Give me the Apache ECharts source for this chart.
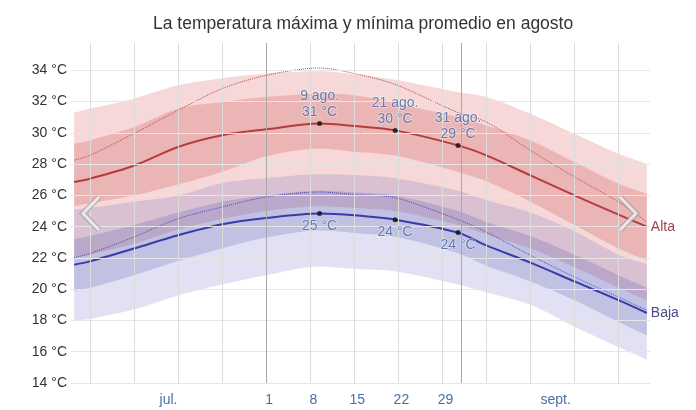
<!DOCTYPE html>
<html>
<head>
<meta charset="utf-8">
<title>La temperatura máxima y mínima promedio en agosto</title>
<script src="https://cdn.jsdelivr.net/npm/echarts@6/dist/echarts.min.js"></script>
<style>
html, body { margin: 0; padding: 0; background: #fff; }
#chart { width: 696px; height: 410px; }
</style>
</head>
<body>
<div id="chart"></div>
<script>
// dias desde el 1 de julio (0 = inicio del 1 jul.)
var days = [0.5, 3, 10, 17, 24, 31, 39.5, 45, 51.5, 61.5, 66, 73, 80, 87, 91.5];

// promedio diario
var highAvg = [26.86, 27.07, 27.9, 29.1, 29.85, 30.23, 30.6, 30.44, 30.16, 29.2, 28.56, 27.28, 26.0, 24.77, 24.0];
var lowAvg = [21.57, 21.78, 22.6, 23.45, 24.15, 24.55, 24.84, 24.73, 24.45, 23.62, 22.8, 21.7, 20.5, 19.3, 18.48];

// temperatura percibida (punteada)
var highFeel = [28.25, 28.56, 29.96, 31.44, 32.83, 33.68, 34.15, 33.8, 33.1, 31.3, 30.7, 28.88, 27.18, 25.58, 24.3];
var lowFeel = [22.02, 22.28, 23.34, 24.51, 25.26, 25.9, 26.22, 26.05, 25.85, 24.45, 23.66, 22.17, 20.78, 19.5, 18.65];

// percentiles de la maxima
var highP90 = [31.3, 31.55, 32.19, 33.04, 33.5, 33.8, 33.94, 33.75, 33.4, 32.6, 32.3, 31.23, 29.95, 28.67, 28.03];
var highP75 = [29.32, 29.52, 30.37, 31.55, 31.97, 32.29, 32.5, 32.4, 31.9, 31.0, 30.48, 29.52, 28.14, 26.75, 26.11];
var highP25 = [25.3, 25.5, 26.0, 26.7, 27.5, 28.5, 29.0, 28.8, 28.55, 27.5, 26.9, 25.6, 24.1, 22.6, 21.85];
var highP10 = [22.0, 22.2, 22.9, 23.8, 24.5, 25.0, 25.3, 25.2, 25.0, 24.1, 23.5, 22.6, 21.4, 20.1, 19.3];

// percentiles de la minima
var lowP90 = [25.1, 25.2, 25.6, 26.0, 26.8, 27.1, 27.35, 27.3, 27.1, 26.3, 25.7, 24.9, 23.7, 22.2, 21.6];
var lowP75 = [23.2, 23.4, 24.1, 24.9, 25.6, 26.0, 26.3, 26.2, 26.0, 25.0, 24.3, 23.4, 22.2, 20.9, 20.1];
var lowP25 = [19.9, 20.1, 20.9, 21.8, 22.6, 23.3, 23.75, 23.6, 23.35, 22.3, 21.5, 20.5, 19.3, 17.9, 17.05];
var lowP10 = [18.0, 18.1, 18.7, 19.6, 20.3, 20.9, 21.45, 21.3, 21.15, 20.3, 19.8, 19.0, 17.6, 16.3, 15.5];

// anotaciones
var annoDays = [39.5, 51.5, 61.5];
var annoNames = ['9 ago.', '21 ago.', '31 ago.'];
var annoHigh = [30.6, 30.16, 29.2];
var annoLow = [24.84, 24.45, 23.62];

// ejes
var xLabelPos = [15.5, 31.5, 38.5, 45.5, 52.5, 59.5, 77];
var xLabelText = ['jul.', '1', '8', '15', '22', '29', 'sept.'];
var weekLines = [3, 10, 17, 24, 38, 45, 52, 59, 66, 73, 80, 87];
var monthLines = [31, 62];
var yTicks = [14, 16, 18, 20, 22, 24, 26, 28, 30, 32, 34];

var FONT = '"Liberation Sans", Arial, sans-serif';

function pairs(xs, ys) {
	return xs.map(function(x, i) {
		return [x, ys[i]];
	});
}

// [valor, dia] para que el apilado se haga sobre y
function flipped(xs, ys) {
	return xs.map(function(x, i) {
		return [ys[i], x];
	});
}

function band(name, lower, upper, color) {
	var thick = upper.map(function(v, i) {
		return +(v - lower[i]).toFixed(3);
	});
	return [{
		name: name + '_base',
		type: 'line',
		stack: name,
		encode: { x: 1, y: 0 },
		data: flipped(days, lower),
		smooth: 0.3,
		symbol: 'none',
		lineStyle: { opacity: 0 },
		silent: true,
		z: 2
	}, {
		name: name,
		type: 'line',
		stack: name,
		encode: { x: 1, y: 0 },
		data: flipped(days, thick),
		smooth: 0.3,
		symbol: 'none',
		lineStyle: { opacity: 0 },
		areaStyle: { color: color, opacity: 1 },
		silent: true,
		z: 2
	}];
}

function gridLines() {
	var list = [];
	yTicks.forEach(function(v) {
		list.push({ yAxis: v, lineStyle: { color: '#e6e6e6', width: 1, type: 'solid' } });
	});
	weekLines.forEach(function(v) {
		list.push({ xAxis: v, lineStyle: { color: '#dcdcdc', width: 1, type: 'solid' } });
	});
	monthLines.forEach(function(v) {
		list.push({ xAxis: v, lineStyle: { color: '#a8a8a8', width: 1, type: 'solid' } });
	});
	return list;
}

var chart = echarts.init(document.getElementById('chart'), null, { renderer: 'canvas' });

var series = [];
series = series.concat(band('highOuter', highP10, highP90, 'rgba(210,60,60,0.2)'));
series = series.concat(band('highInner', highP25, highP75, 'rgba(200,50,50,0.21)'));
series = series.concat(band('lowOuter', lowP10, lowP90, 'rgba(75,75,185,0.17)'));
series = series.concat(band('lowInner', lowP25, lowP75, 'rgba(75,75,175,0.21)'));

// lineas de cuadricula
series[0].markLine = {
	silent: true,
	symbol: 'none',
	animation: false,
	label: { show: false },
	data: gridLines()
};

series.push({
	name: 'highFeel', type: 'line', data: pairs(days, highFeel), smooth: 0.3, symbol: 'none', z: 3,
	lineStyle: { color: '#b04a4a', width: 1, type: 'dotted' }
});
series.push({
	name: 'lowFeel', type: 'line', data: pairs(days, lowFeel), smooth: 0.3, symbol: 'none', z: 3,
	lineStyle: { color: '#4a4ab0', width: 1, type: 'dotted' }
});
series.push({
	name: 'Alta', type: 'line', data: pairs(days, highAvg), smooth: 0.3, symbol: 'none', z: 4,
	lineStyle: { color: '#b33c3c', width: 2 },
	endLabel: { show: true, formatter: 'Alta', color: '#9c4646', fontFamily: FONT, fontSize: 14, distance: 4 }
});
series.push({
	name: 'Baja', type: 'line', data: pairs(days, lowAvg), smooth: 0.3, symbol: 'none', z: 4,
	lineStyle: { color: '#3a3aaa', width: 2 },
	endLabel: { show: true, formatter: 'Baja', color: '#4a4a8c', fontFamily: FONT, fontSize: 14, distance: 4 }
});
series.push({
	name: 'annoHigh', type: 'scatter', z: 5, symbolSize: 5,
	itemStyle: { color: '#111' },
	data: annoDays.map(function(d, i) {
		return { value: [d, annoHigh[i]], name: annoNames[i] };
	}),
	label: {
		show: true, position: 'top', distance: 1,
		formatter: function(p) { return p.name + '\n' + Math.round(p.value[1]) + ' °C'; },
		color: '#3d5fa0', fontFamily: FONT, fontSize: 14, lineHeight: 16, align: 'center',
		textBorderColor: 'rgba(255,255,255,0.6)', textBorderWidth: 1.5
	}
});
series.push({
	name: 'annoLow', type: 'scatter', z: 5, symbolSize: 5,
	itemStyle: { color: '#111' },
	data: annoDays.map(function(d, i) {
		return [d, annoLow[i]];
	}),
	label: {
		show: true, position: 'bottom', distance: 3,
		formatter: function(p) { return Math.round(p.value[1]) + ' °C'; },
		color: '#3d5fa0', fontFamily: FONT, fontSize: 14,
		textBorderColor: 'rgba(255,255,255,0.6)', textBorderWidth: 1.5
	}
});

function chevron(points) {
	return [{
		type: 'polyline', z: 100, silent: true,
		shape: { points: points },
		style: { stroke: 'rgba(160,160,160,0.6)', lineWidth: 6, fill: null, lineJoin: 'miter', lineCap: 'butt' }
	}, {
		type: 'polyline', z: 101, silent: true,
		shape: { points: points },
		style: { stroke: 'rgba(255,255,255,0.7)', lineWidth: 3, fill: null, lineJoin: 'miter', lineCap: 'butt' }
	}];
}

var option = {
	animation: false,
	backgroundColor: '#fff',
	title: {
		text: 'La temperatura máxima y mínima promedio en agosto',
		left: 148,
		top: 10,
		textStyle: { fontFamily: FONT, fontSize: 17.5, fontWeight: 'normal', color: '#333' }
	},
	grid: { left: 71, right: 46, top: 43, bottom: 27, containLabel: false },
	xAxis: {
		type: 'value',
		min: 0,
		max: 92,
		axisLine: { show: false },
		axisTick: { show: false },
		splitLine: { show: false },
		axisLabel: {
			customValues: xLabelPos,
			formatter: function(v) {
				var i = xLabelPos.indexOf(v);
				return i >= 0 ? xLabelText[i] : '';
			},
			color: '#4a6fa8', fontFamily: FONT, fontSize: 14, margin: 10
		}
	},
	yAxis: {
		type: 'value',
		min: 14,
		max: 35.75,
		interval: 2,
		axisLine: { show: false },
		axisTick: { show: false },
		splitLine: { show: false },
		axisLabel: {
			formatter: function(v) {
				return yTicks.indexOf(v) >= 0 ? v + ' °C' : '';
			},
			color: '#333', fontFamily: FONT, fontSize: 14, margin: 4
		}
	},
	graphic: chevron([[99, 197], [83, 213.5], [99, 230]]).concat(chevron([[620, 197], [636, 213.5], [620, 230]])),
	series: series
};

chart.setOption(option);
</script>
</body>
</html>
